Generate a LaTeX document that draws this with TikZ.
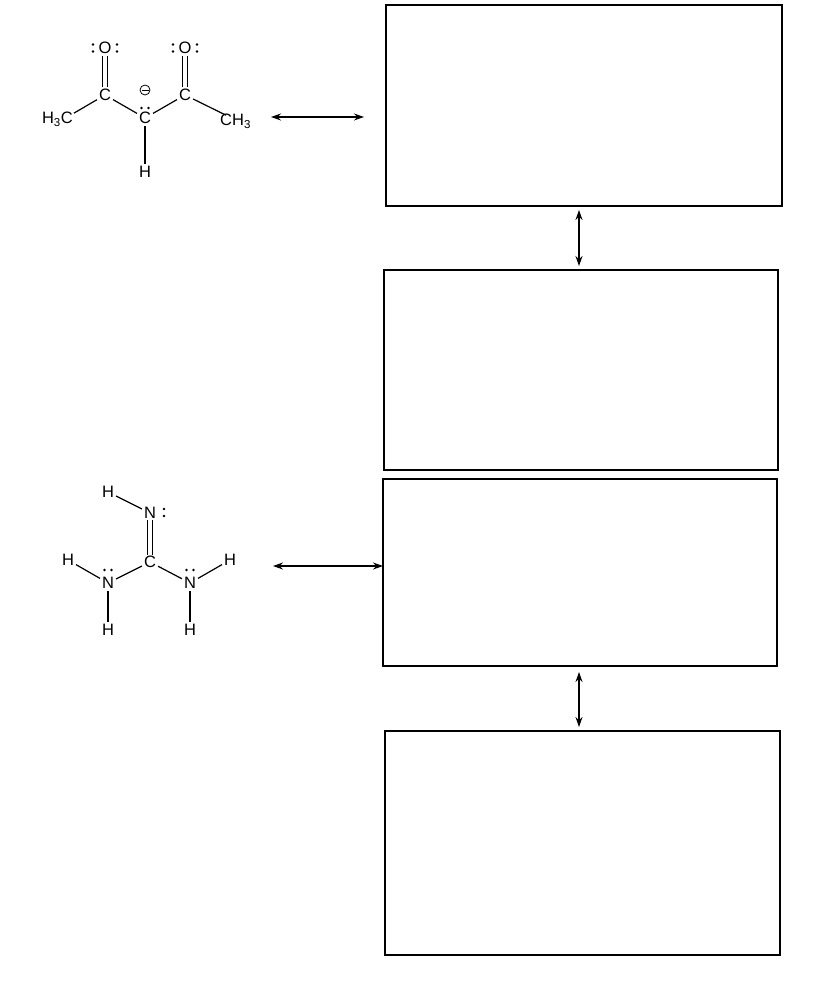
\documentclass[tikz,border=0pt]{standalone}
\usepackage{fontspec}
\setmainfont{Liberation Sans}
\usetikzlibrary{arrows.meta}
\begin{document}
\begin{tikzpicture}[x=1pt,y=-1pt,
  atom/.style={inner sep=1pt,font=\fontsize{16.5}{17}\selectfont},
  bond/.style={line width=1.2pt,shorten >=1pt,shorten <=1pt},
  box/.style={draw,line width=1.2pt},
  res/.style={line width=1.2pt,{Stealth[length=10pt,width=7pt]}-{Stealth[length=10pt,width=7pt]}},
  dot/.style={circle,fill,inner sep=0pt,minimum size=2.8pt}]
\useasboundingbox (0,0) rectangle (837,990);
% boxes
\draw[box] (386,5) rectangle (782,206); \coordinate (b1s) at (579,206); \coordinate (b1w) at (364,117);
\draw[box] (384,270) rectangle (778,470); \coordinate (b2n) at (579,270);
\draw[box] (383,479) rectangle (777,666); \coordinate (b3w) at (383,566); \coordinate (b3s) at (579,666);
\draw[box] (385,731) rectangle (780,955); \coordinate (b4n) at (579,731);
% arrows
\coordinate (a1) at (271,117);
\draw[res] (a1) -- (b1w);
\draw[res] ([yshift=-4]b1s) -- ([yshift=4]b2n);
\coordinate (a3) at (273,566);
\draw[res] (a3) -- (b3w);
\draw[res] ([yshift=-6]b3s) -- ([yshift=4]b4n);
% molecule 1
\node[atom] (O1) at (105,48) {O};
\node[atom] (O2) at (185,48) {O};
\node[atom] (C1) at (105,95) {C};
\node[atom] (C2) at (185,95) {C};
\node[atom] (Cc) at (145,118) {C};
\node[atom] (Hc) at (145,172) {H};
\node[atom,anchor=east] (Me1) at (74,119) {H\textsubscript{3}C};
\node[atom,anchor=west] (Me2) at (219,121) {CH\textsubscript{3}};
\node[circle,draw,line width=0.8pt,inner sep=0pt,minimum size=10pt] (neg) at (145,90) {};
\draw[line width=0.8pt] (141.5,90) -- (148.5,90);
\foreach \o in {O1,O2}{
  \node[dot] at ([xshift=-12,yshift=-3.5]\o) {}; \node[dot] at ([xshift=-12,yshift=3.5]\o) {};
  \node[dot] at ([xshift=12,yshift=-3.5]\o) {}; \node[dot] at ([xshift=12,yshift=3.5]\o) {};
  \draw[line width=1.2pt] ([xshift=-2.5,yshift=-1]\o.south) -- ([xshift=-2.5,yshift=1]\o.south |- C1.north);
  \draw[line width=1.2pt] ([xshift=2.5,yshift=-1]\o.south) -- ([xshift=2.5,yshift=1]\o.south |- C1.north);
}
\node[dot] at (141.5,108) {}; \node[dot] at (148.5,108) {};
\draw[bond] ([xshift=-1,yshift=-3]Me1.north east) -- (C1);
\draw[bond] (C1) -- (Cc);
\draw[bond] (Cc) -- (C2);
\draw[bond] (C2) -- ([xshift=8,yshift=-3]Me2.north west);
\draw[bond] (Cc) -- (Hc);
% molecule 2
\node[atom] (Ht) at (108,492) {H};
\node[atom] (Nt) at (150,513) {N};
\node[atom] (C) at (150,562) {C};
\node[atom] (Nl) at (108,583) {N};
\node[atom] (Nr) at (190,583) {N};
\node[atom] (Hl) at (68,560) {H};
\node[atom] (Hr) at (230,560) {H};
\node[atom] (Hbl) at (108,630) {H};
\node[atom] (Hbr) at (190,630) {H};
\node[dot] at (164,509) {}; \node[dot] at (164,516) {};
\node[dot] at (104.5,570) {}; \node[dot] at (111.5,570) {};
\node[dot] at (186.5,570) {}; \node[dot] at (193.5,570) {};
\draw[bond] (Ht) -- (Nt);
\draw[line width=1.2pt] ([xshift=-2.5]Nt.south) -- ([xshift=-2.5]C.north);
\draw[line width=1.2pt] ([xshift=2.5]Nt.south) -- ([xshift=2.5]C.north);
\draw[bond] (C) -- (Nl);
\draw[bond] (C) -- (Nr);
\draw[bond] (Hl) -- (Nl);
\draw[bond] (Hr) -- (Nr);
\draw[bond] (Nl) -- (Hbl);
\draw[bond] (Nr) -- (Hbr);
\end{tikzpicture}
\end{document}
